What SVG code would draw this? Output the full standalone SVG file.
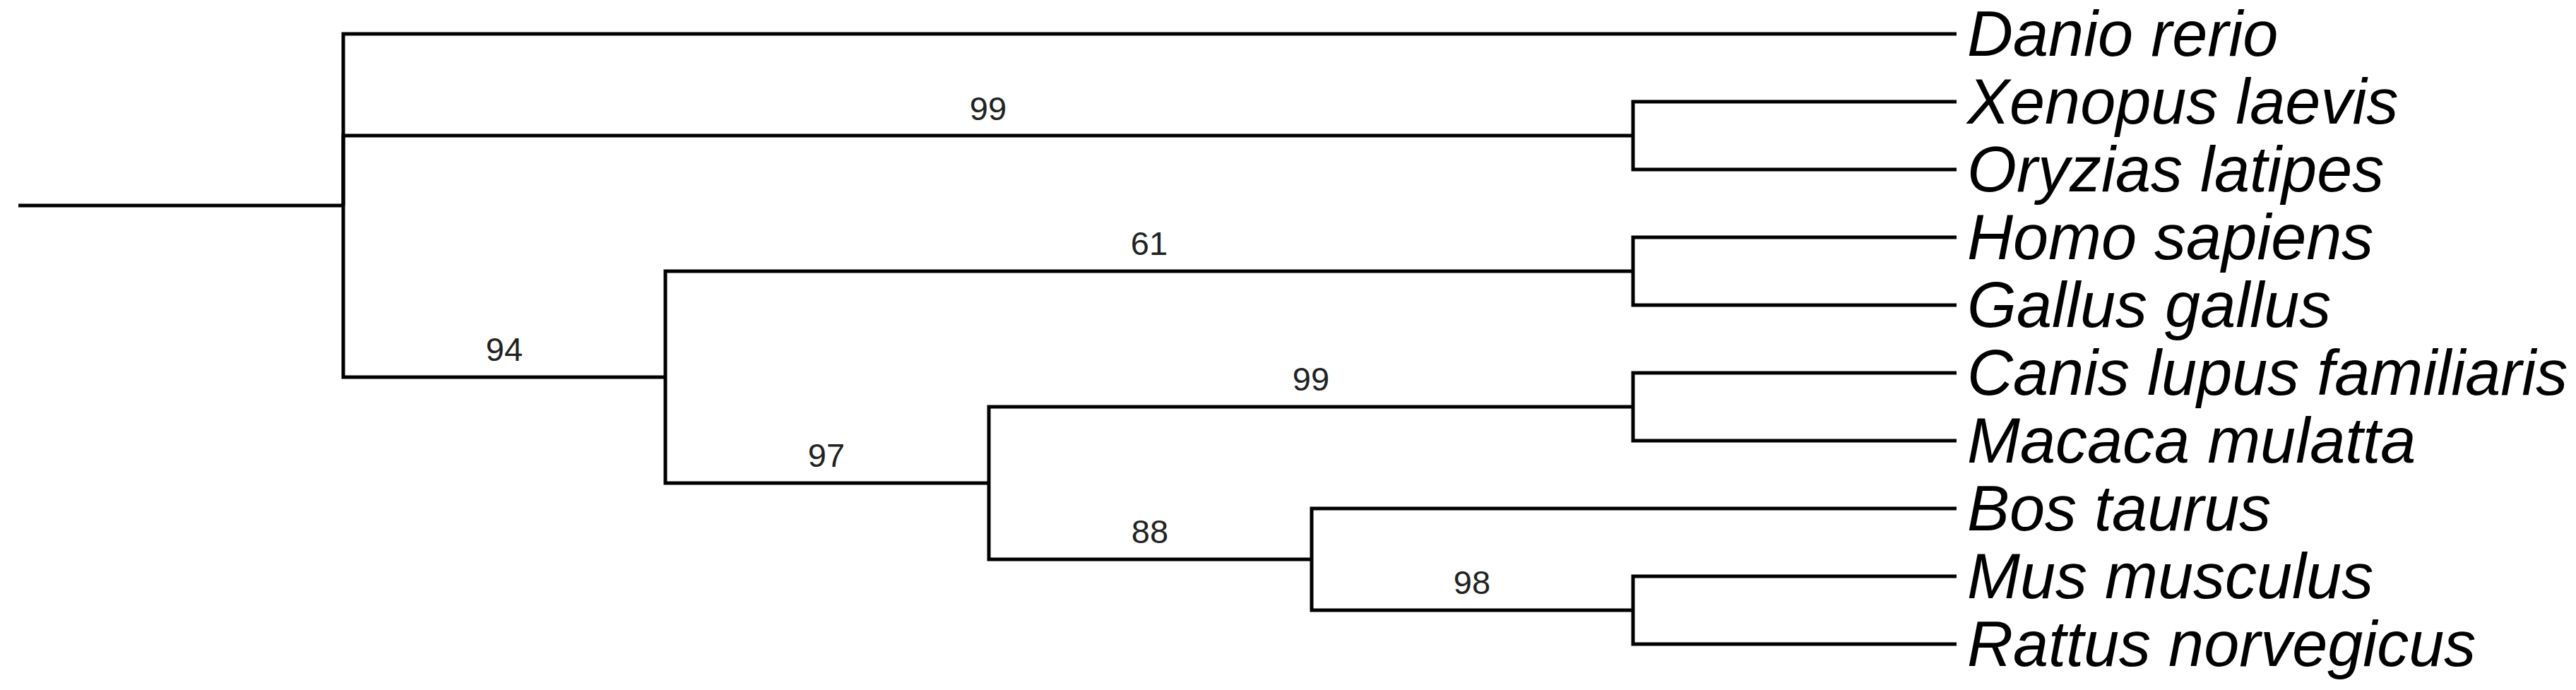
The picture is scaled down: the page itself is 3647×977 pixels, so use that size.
<svg xmlns="http://www.w3.org/2000/svg" width="3647" height="977" viewBox="0 0 3647 977">
<style>
.br{fill:none;stroke:#000;stroke-width:5;stroke-linejoin:miter;stroke-linecap:butt}
.leaf{font-family:"Liberation Sans",Arial,sans-serif;font-style:italic;font-size:90px;fill:#000}
.sup{font-family:"Liberation Sans",Arial,sans-serif;font-size:47px;fill:#222;text-anchor:middle}
</style>
<rect width="3647" height="977" fill="#fff"/>
<g id="connectors">
<path class="br" d="M26 291H486"/>
<path class="br" d="M486 291V48H2770"/>
<path class="br" d="M486 291V192H2312"/>
<path class="br" d="M486 291V534H942"/>
<path class="br" d="M2312 192V144H2770"/>
<path class="br" d="M2312 192V240H2770"/>
<path class="br" d="M942 534V384H2312"/>
<path class="br" d="M2312 384V336H2770"/>
<path class="br" d="M2312 384V432H2770"/>
<path class="br" d="M942 534V684H1400"/>
<path class="br" d="M1400 684V576H2312"/>
<path class="br" d="M2312 576V528H2770"/>
<path class="br" d="M2312 576V624H2770"/>
<path class="br" d="M1400 684V792H1857"/>
<path class="br" d="M1857 792V720H2770"/>
<path class="br" d="M1857 792V864H2312"/>
<path class="br" d="M2312 864V816H2770"/>
<path class="br" d="M2312 864V912H2770"/>
</g>
<g id="node-xenopus-oryzias"><text class="sup" x="1399" y="170">99</text></g>
<g id="node-homo-gallus"><text class="sup" x="1627" y="361">61</text></g>
<g id="node-94"><text class="sup" x="714" y="511">94</text></g>
<g id="node-97"><text class="sup" x="1170" y="661">97</text></g>
<g id="node-canis-macaca"><text class="sup" x="1856" y="553">99</text></g>
<g id="node-88"><text class="sup" x="1628" y="769">88</text></g>
<g id="node-mus-rattus"><text class="sup" x="2084" y="841">98</text></g>
<g id="leaf-danio"><text class="leaf" x="2785" y="79">Danio rerio</text></g>
<g id="leaf-xenopus"><text class="leaf" x="2785" y="175">Xenopus laevis</text></g>
<g id="leaf-oryzias"><text class="leaf" x="2785" y="271">Oryzias latipes</text></g>
<g id="leaf-homo"><text class="leaf" x="2785" y="367">Homo sapiens</text></g>
<g id="leaf-gallus"><text class="leaf" x="2785" y="463">Gallus gallus</text></g>
<g id="leaf-canis"><text class="leaf" x="2785" y="559">Canis lupus familiaris</text></g>
<g id="leaf-macaca"><text class="leaf" x="2785" y="655">Macaca mulatta</text></g>
<g id="leaf-bos"><text class="leaf" x="2785" y="751">Bos taurus</text></g>
<g id="leaf-mus"><text class="leaf" x="2785" y="847">Mus musculus</text></g>
<g id="leaf-rattus"><text class="leaf" x="2785" y="943">Rattus norvegicus</text></g>
</svg>
